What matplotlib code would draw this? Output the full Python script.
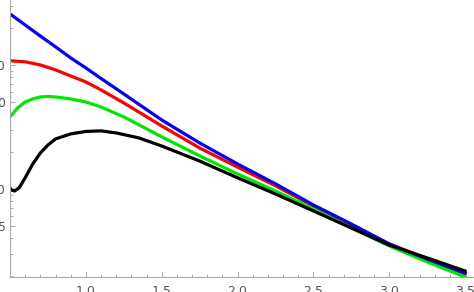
import numpy as np
import matplotlib
matplotlib.use("Agg")
import matplotlib.pyplot as plt
from matplotlib.ticker import FixedLocator, FixedFormatter, MultipleLocator, NullFormatter

# values (log y axis)
x_main = [0.5, 0.6, 0.7, 0.8, 0.9, 1.0, 1.1, 1.25, 1.5, 1.75, 2.0, 2.25, 2.5, 2.75, 3.0, 3.25, 3.5]
blue = [25.8, 21.0, 17.1, 14.0, 11.4, 9.46, 7.78, 5.84, 3.60, 2.35, 1.59, 1.10, 0.743, 0.522,
        0.360, 0.272, 0.210]
red = [10.8, 10.6, 10.0, 9.12, 8.15, 7.29, 6.29, 4.94, 3.22, 2.14, 1.50, 1.06, 0.729, 0.513,
       0.360, 0.272, 0.206]

x_green = [0.5, 0.55, 0.6, 0.65, 0.7, 0.75, 0.8, 0.9, 1.0, 1.1, 1.25, 1.5, 1.75, 2.0,
           2.25, 2.5, 2.75, 3.0, 3.25, 3.5]
green = [3.81, 4.50, 5.03, 5.32, 5.52, 5.57, 5.52, 5.32, 5.03, 4.58, 3.81, 2.63, 1.85, 1.32,
         0.963, 0.690, 0.485, 0.347, 0.258, 0.195]

x_black = [0.5, 0.51, 0.53, 0.56, 0.6, 0.65, 0.7, 0.75, 0.8, 0.9, 1.0, 1.1, 1.2, 1.35, 1.5,
           1.75, 2.0, 2.25, 2.5, 2.75, 3.0, 3.25, 3.5]
black = [1.02, 0.982, 0.963, 1.02, 1.23, 1.59, 1.95, 2.26, 2.53, 2.78, 2.91, 2.94, 2.83, 2.58,
         2.22, 1.68, 1.23, 0.911, 0.665, 0.485, 0.353, 0.278, 0.218]

y_ticks = [0.5, 1, 5, 10]
y_labels = ["0.5", "1.0", "5.0", "10.0"]
x_ticks = [1.0, 1.5, 2.0, 2.5, 3.0, 3.5]

fig = plt.figure(figsize=(4.74, 2.92), dpi=100)
ax = fig.add_axes([10 / 474, 15 / 292, 464 / 474, 277 / 292])

lw = 2.3
ax.plot(x_main, red, color="#ff0000", lw=lw, solid_joinstyle="round")
ax.plot(x_green, green, color="#00e600", lw=lw, solid_joinstyle="round")
ax.plot(x_main, blue, color="#0000ff", lw=lw, solid_joinstyle="round")
ax.plot(x_black, black, color="black", lw=lw, solid_joinstyle="round")

ax.set_yscale("log")
ax.set_xlim(0.5, 3.559)
ax.set_ylim(0.195, 33.4)

for s in ["top", "right"]:
    ax.spines[s].set_visible(False)
for s in ["left", "bottom"]:
    ax.spines[s].set_color("#aaaaaa")
    ax.spines[s].set_linewidth(0.8)

ax.xaxis.set_major_locator(FixedLocator(x_ticks))
ax.xaxis.set_minor_locator(MultipleLocator(0.1))
ax.set_xticklabels(["%.1f" % t for t in x_ticks])
ax.yaxis.set_major_locator(FixedLocator(y_ticks))
ax.yaxis.set_major_formatter(FixedFormatter(y_labels))
ax.yaxis.set_minor_formatter(NullFormatter())

ax.tick_params(which="both", direction="in", color="#aaaaaa", width=0.7,
               labelcolor="#555555", labelsize=9)
ax.tick_params(which="major", length=3.5)
ax.tick_params(which="minor", length=2)
ax.tick_params(axis="x", pad=6)
ax.tick_params(axis="y", pad=3)

fig.savefig("out.png", dpi=100)
